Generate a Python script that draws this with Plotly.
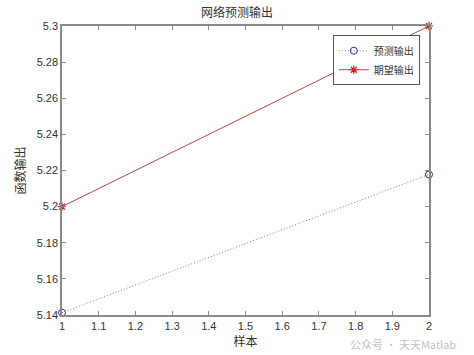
import plotly.graph_objects as go

samples = [1, 2]
predicted = [5.1413, 5.2178]
expected = [5.2, 5.3]
x_ticks = [1, 1.1, 1.2, 1.3, 1.4, 1.5, 1.6, 1.7, 1.8, 1.9, 2]
y_ticks = [5.14, 5.16, 5.18, 5.2, 5.22, 5.24, 5.26, 5.28, 5.3]

cjk = "Noto Sans CJK SC"
fig = go.Figure()
fig.add_trace(go.Scatter(
    x=samples, y=predicted, name="预测输出", mode="lines+markers",
    line=dict(color="#8080a0", width=1, dash="1px,2px"),
    marker=dict(symbol="circle-open", size=7, color="#2a2a8a", line=dict(width=1)),
    cliponaxis=False,
))
fig.add_trace(go.Scatter(
    x=samples, y=expected, name="期望输出", mode="lines+markers",
    line=dict(color="#b04848", width=1),
    marker=dict(symbol="asterisk-open", size=7, color="#d02020", line=dict(width=1.2, color="#d02020")),
    cliponaxis=False,
))

axis_common = dict(
    showgrid=False, zeroline=False, showline=True, linecolor="#8a8a8a", linewidth=1.5,
    mirror="ticks", ticks="inside", ticklen=4, tickcolor="#8a8a8a",
    tickfont=dict(family="Liberation Sans", size=11, color="#333333"),
)
fig.update_xaxes(range=[1, 2], tickvals=x_ticks, ticktext=[f"{v:g}" for v in x_ticks],
                 title=dict(text="样本", font=dict(family=cjk, size=12, color="#333333"), standoff=4),
                 **axis_common)
fig.update_yaxes(range=[5.14, 5.3], tickvals=y_ticks, ticktext=[f"{v:g}" for v in y_ticks],
                 title=dict(text="函数输出", font=dict(family=cjk, size=12, color="#333333"), standoff=8),
                 **axis_common)

fig.update_layout(
    width=474, height=355,
    margin=dict(l=62, r=45, t=26, b=40),
    paper_bgcolor="white", plot_bgcolor="white",
    title=dict(text="网络预测输出", x=0.5, xanchor="center", y=0.975, yanchor="top",
               font=dict(family=cjk, size=12, color="#333333")),
    legend=dict(x=0.975, y=0.968, xanchor="right", yanchor="top",
                bgcolor="white", bordercolor="#555555", borderwidth=1,
                font=dict(family=cjk, size=10, color="#333333"),
                itemwidth=30, tracegroupgap=0),
    showlegend=True,
)
fig.add_annotation(text="公众号 · 天天Matlab", xref="paper", yref="paper", x=1.08, y=-0.10,
                   xanchor="right", yanchor="middle", showarrow=False,
                   font=dict(family=cjk, size=11, color="rgba(150,150,150,0.6)"))

fig.write_html("out.html")
